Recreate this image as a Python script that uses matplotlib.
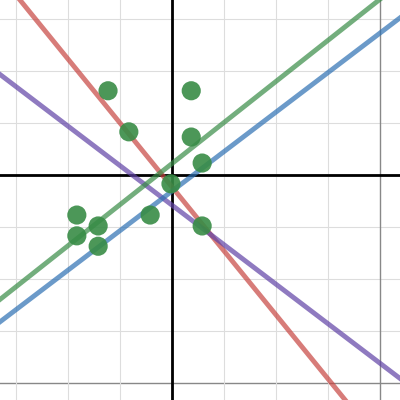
import numpy as np
import matplotlib.pyplot as plt

# scatter points
pts_x = [-1.23, 0.37, -0.83, 0.37, 0.58, -0.02, -0.42, 0.58, -1.83, -1.42, -1.83, -1.42]
pts_y = [1.62, 1.62, 0.83, 0.73, 0.23, -0.17, -0.77, -0.98, -0.77, -0.98, -1.17, -1.37]

# lines: slope, intercept, colour
slopes = [-1.23, 0.79, 0.76, -0.76]
intercepts = [-0.23, 0.22, -0.31, -0.58]
colors = ["#c74440", "#388c46", "#2d70b3", "#6042a6"]

xmin, xmax = -172 / 52, 228 / 52
ymin, ymax = -225 / 52, 175 / 52

fig = plt.figure(figsize=(4, 4), dpi=100)
ax = fig.add_axes([0, 0, 1, 1])
ax.set_xlim(xmin, xmax)
ax.set_ylim(ymin, ymax)

for g in range(-4, 5):
    c = "#888888" if g % 4 == 0 else "#dddddd"
    lw = 1.0 if g % 4 == 0 else 0.8
    ax.axvline(g, color=c, lw=lw, zorder=0)
    ax.axhline(g, color=c, lw=lw, zorder=0)
ax.axvline(0, color="black", lw=2, zorder=1)
ax.axhline(0, color="black", lw=2, zorder=1)

xs = np.array([xmin, xmax])
order = [0, 3, 1, 2]
for i in order:
    ax.plot(xs, slopes[i] * xs + intercepts[i], color=colors[i], lw=3.5, alpha=0.7, zorder=2)

ax.scatter(pts_x, pts_y, s=190, color="#388c46", alpha=0.9, edgecolors="none", zorder=3)

ax.set_xticks([])
ax.set_yticks([])
for s in ax.spines.values():
    s.set_visible(False)

fig.savefig("out.png", dpi=100)
